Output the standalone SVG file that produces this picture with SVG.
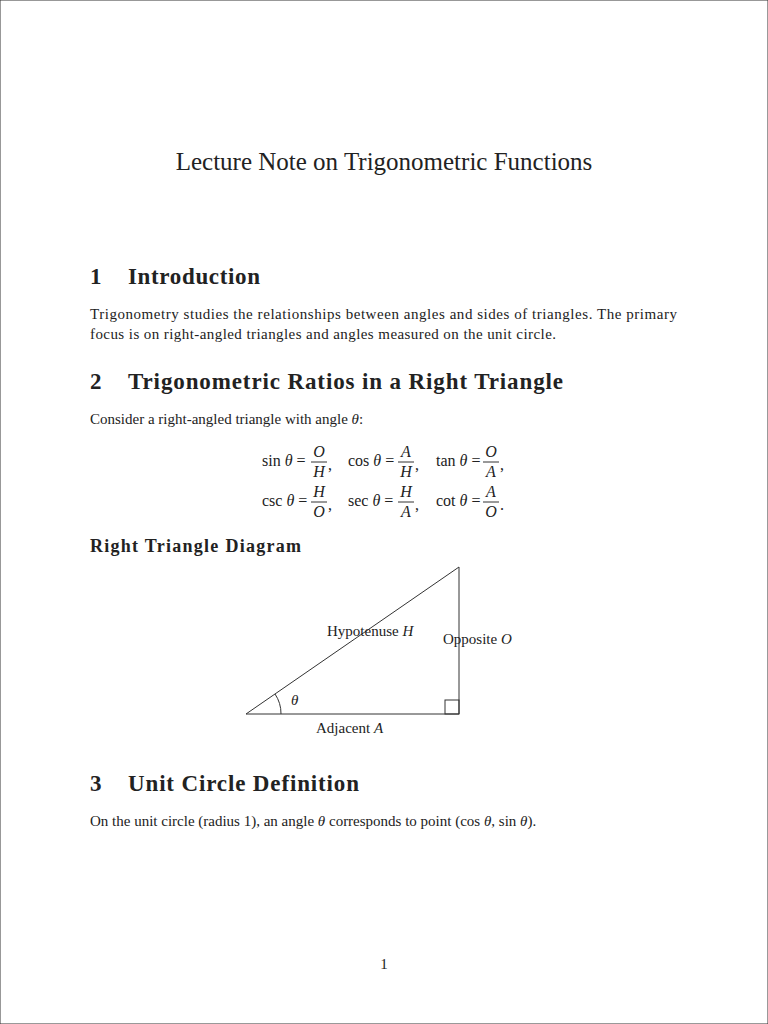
<svg xmlns="http://www.w3.org/2000/svg" width="768" height="1024" viewBox="0 0 768 1024">
<style>
text{font-family:"Liberation Serif","DejaVu Serif",serif;fill:#222}
.b{font-size:15px}.h{font-size:23px;font-weight:bold}.i{font-style:italic}.m{font-size:16px}
line,path,rect{stroke:#333;stroke-width:1;fill:none}
</style>
<rect width="768" height="1024" fill="#fff" stroke="none"/>
<text x="384" y="170" font-size="25" text-anchor="middle">Lecture Note on Trigonometric Functions</text>
<text class="h" x="90" y="284">1</text><text class="h" x="128" y="284" textLength="132">Introduction</text>
<text class="b" x="90" y="319" font-size="16" textLength="587">Trigonometry studies the relationships between angles and sides of triangles. The primary</text>
<text class="b" x="90" y="339" font-size="16" textLength="466">focus is on right-angled triangles and angles measured on the unit circle.</text>
<text class="h" x="90" y="389">2</text><text class="h" x="128" y="389" textLength="435">Trigonometric Ratios in a Right Triangle</text>
<text class="b" x="90" y="424">Consider a right-angled triangle with angle <tspan class="i">θ</tspan>:</text>
<g id="formulas" class="m">
<text x="262" y="466">sin <tspan class="i">θ</tspan> =</text>
<text x="319" y="457" text-anchor="middle" class="i">O</text><line x1="311" y1="462" x2="327" y2="462"/><text x="319" y="477" text-anchor="middle" class="i">H</text><text x="328" y="470">,</text>
<text x="348" y="466">cos <tspan class="i">θ</tspan> =</text>
<text x="406" y="457" text-anchor="middle" class="i">A</text><line x1="398" y1="462" x2="414" y2="462"/><text x="406" y="477" text-anchor="middle" class="i">H</text><text x="415" y="470">,</text>
<text x="436" y="466">tan <tspan class="i">θ</tspan> =</text>
<text x="491" y="457" text-anchor="middle" class="i">O</text><line x1="483" y1="462" x2="499" y2="462"/><text x="491" y="477" text-anchor="middle" class="i">A</text><text x="500" y="470">,</text>
<text x="262" y="506">csc <tspan class="i">θ</tspan> =</text>
<text x="319" y="497" text-anchor="middle" class="i">H</text><line x1="311" y1="502" x2="327" y2="502"/><text x="319" y="517" text-anchor="middle" class="i">O</text><text x="328" y="510">,</text>
<text x="348" y="506">sec <tspan class="i">θ</tspan> =</text>
<text x="406" y="497" text-anchor="middle" class="i">H</text><line x1="398" y1="502" x2="414" y2="502"/><text x="406" y="517" text-anchor="middle" class="i">A</text><text x="415" y="510">,</text>
<text x="436" y="506">cot <tspan class="i">θ</tspan> =</text>
<text x="491" y="497" text-anchor="middle" class="i">A</text><line x1="483" y1="502" x2="499" y2="502"/><text x="491" y="517" text-anchor="middle" class="i">O</text><text x="500" y="510">.</text>
</g>
<text x="90" y="552" font-size="18" font-weight="bold" textLength="211">Right Triangle Diagram</text>
<g id="triangle">
<path d="M246 714 L459 714 L459 567 Z"/>
<rect x="445" y="700" width="14" height="14"/>
<path d="M281 714 A35 35 0 0 0 275 694"/>
</g>
<text class="b" x="291" y="705"><tspan class="i">θ</tspan></text>
<text class="b" x="327" y="636">Hypotenuse <tspan class="i">H</tspan></text>
<text class="b" x="443" y="644">Opposite <tspan class="i">O</tspan></text>
<text class="b" x="316" y="733">Adjacent <tspan class="i">A</tspan></text>
<text class="h" x="90" y="791">3</text><text class="h" x="128" y="791" textLength="231">Unit Circle Definition</text>
<text class="b" x="90" y="826">On the unit circle (radius 1), an angle <tspan class="i">θ</tspan> corresponds to point (cos <tspan class="i">θ</tspan>, sin <tspan class="i">θ</tspan>).</text>
<text class="b" x="384" y="969" text-anchor="middle">1</text>
</svg>
